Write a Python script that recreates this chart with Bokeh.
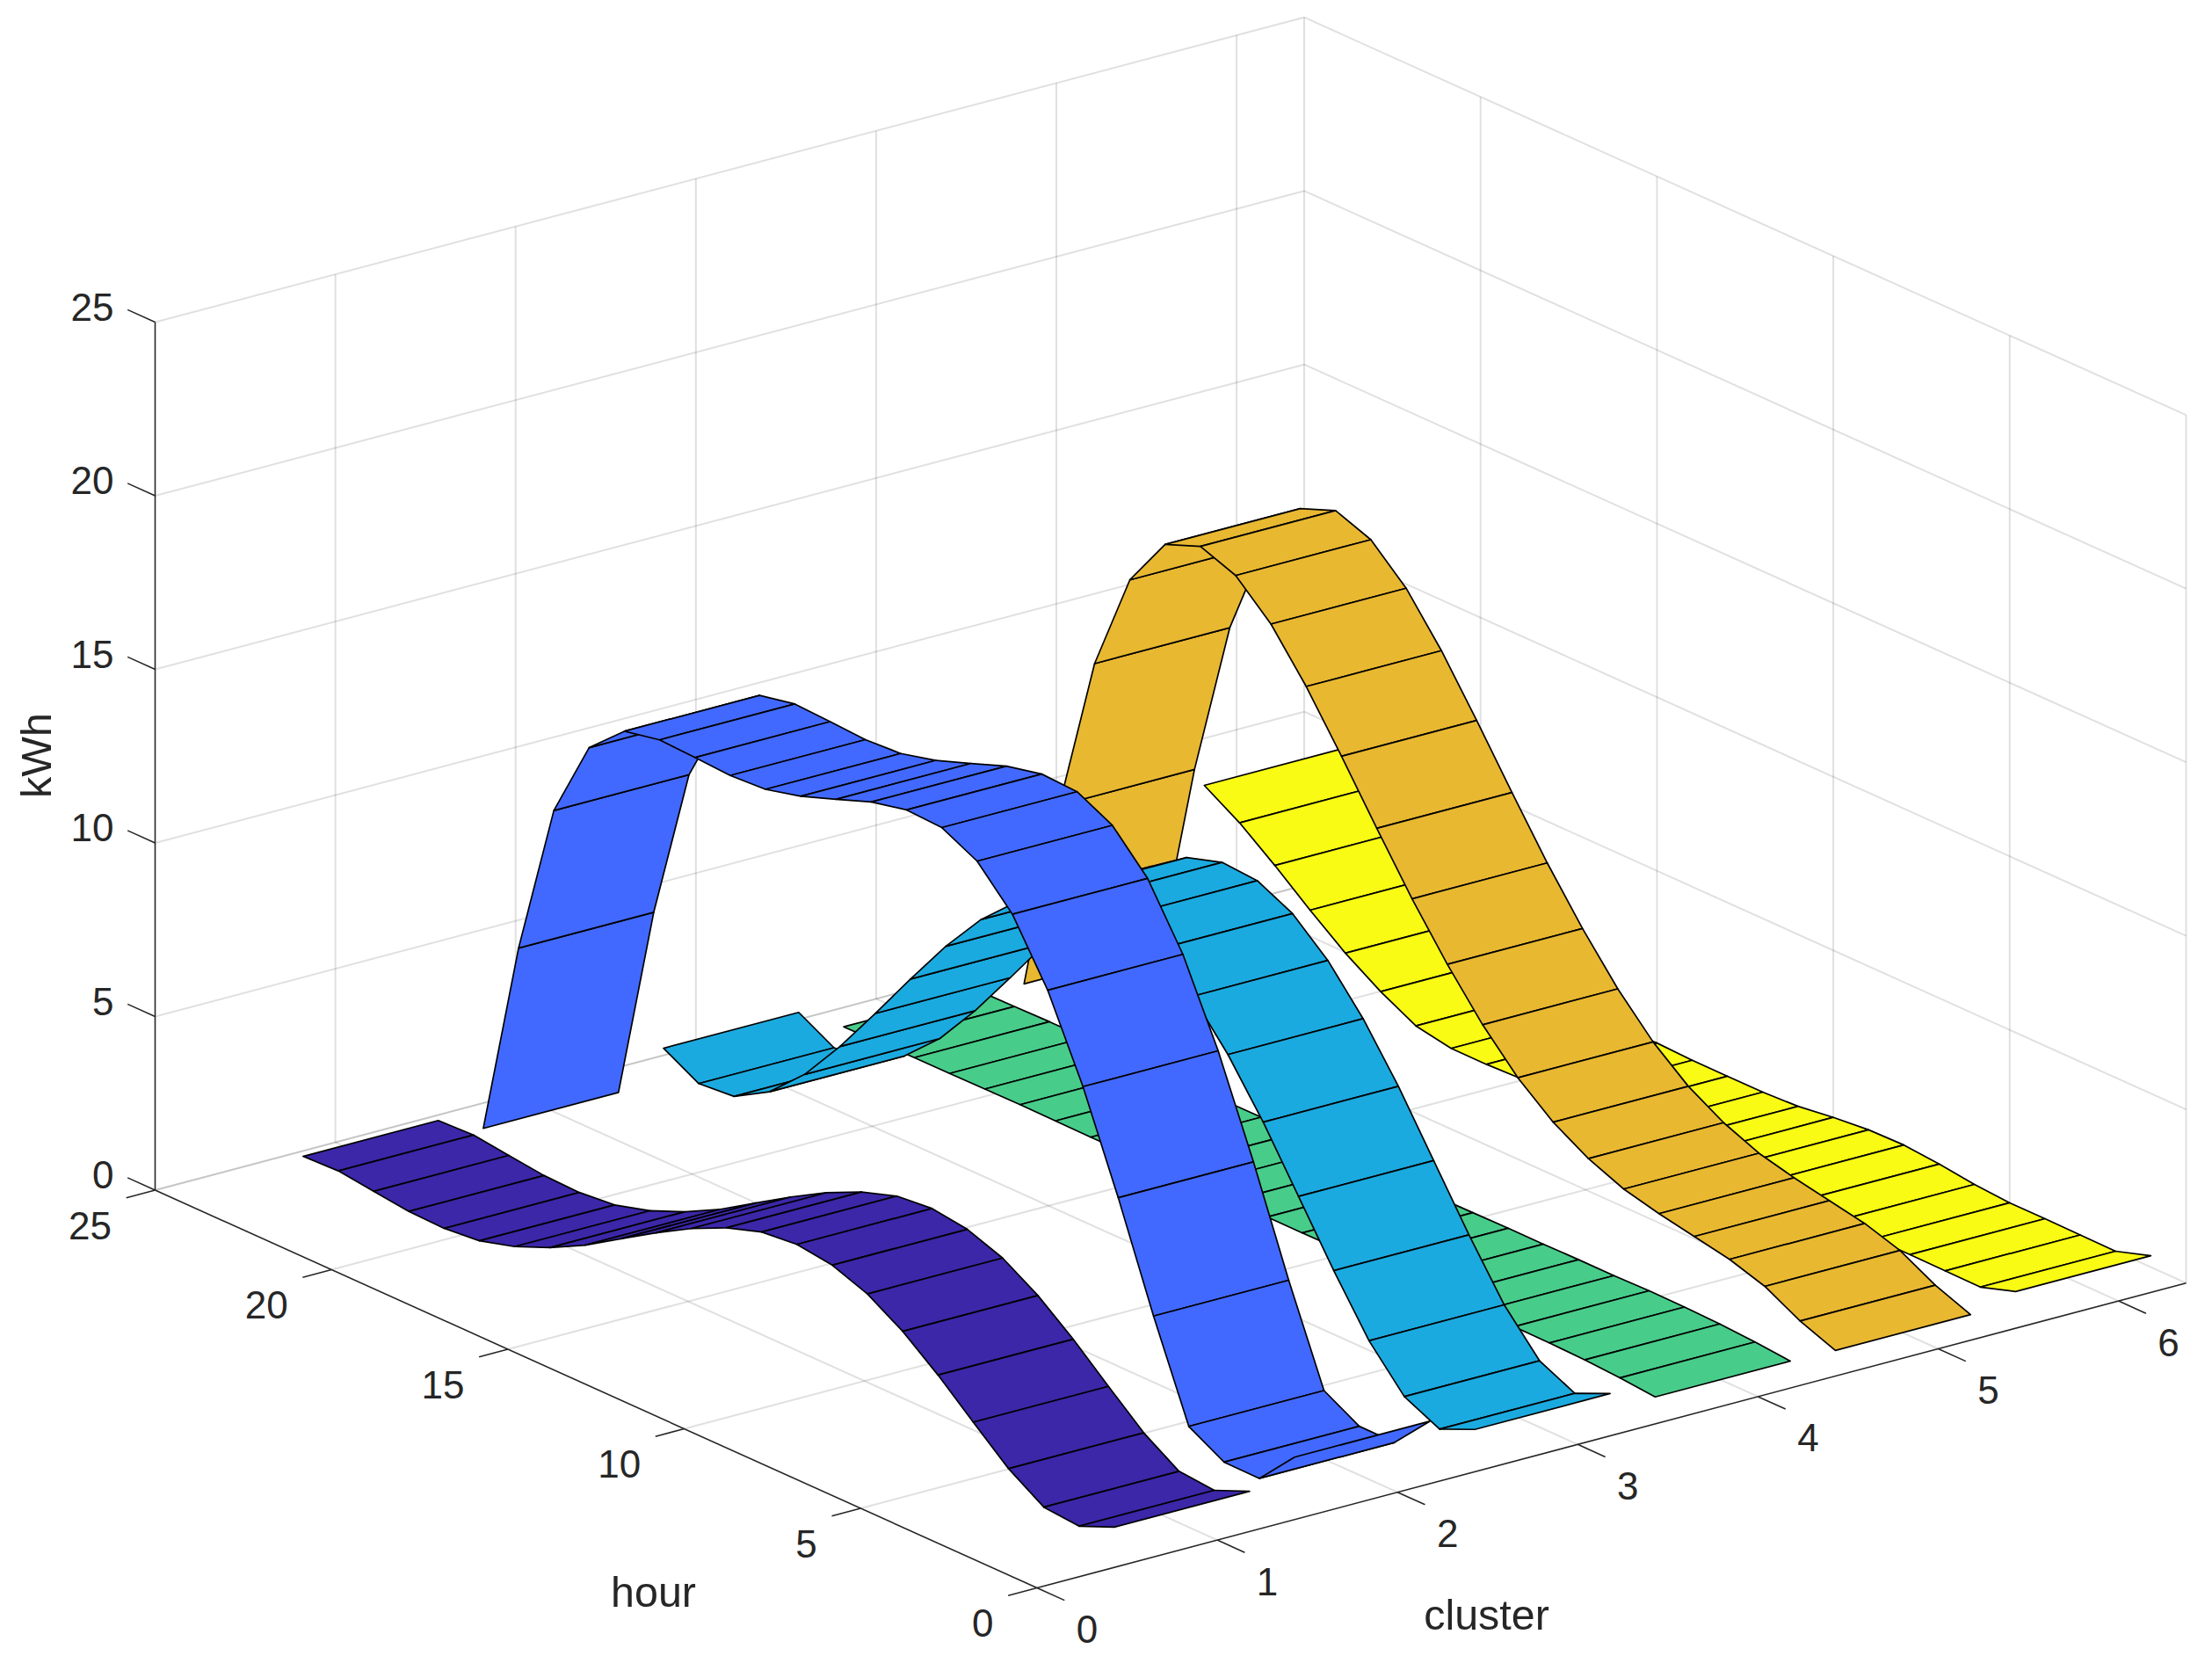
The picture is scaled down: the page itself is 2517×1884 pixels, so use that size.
from bokeh.plotting import figure
from bokeh.models import ColumnDataSource, Range1d
from bokeh.core.properties import value
from bokeh.embed import file_html
from bokeh.resources import INLINE
import math

hours = list(range(1, 25))
cluster1 = [0.43, 0.00, 0.09, 0.74, 1.62, 2.52, 3.32, 3.94, 4.31, 4.45, 4.35, 4.01,
            3.53, 2.95, 2.32, 1.68, 1.15, 0.72, 0.43, 0.33, 0.36, 0.48, 0.61, 0.57]
cluster2 = [1.07, 0.00, 0.01, 0.58, 3.30, 6.25, 8.99, 11.31, 13.04, 14.11, 14.62, 14.67,
            14.44, 14.06, 13.69, 13.43, 13.37, 13.43, 13.48, 13.27, 12.34, 10.07, 5.65, 0.00]
cluster3 = [0.49, 0.04, 0.52, 1.67, 3.23, 4.91, 6.59, 8.08, 9.30, 10.19, 10.68, 10.75,
            10.43, 9.72, 8.76, 7.53, 6.13, 4.68, 3.27, 2.01, 1.05, 0.46, 0.37, 0.93]
cluster4 = [0.05, 0.14, 0.20, 0.23, 0.24, 0.22, 0.22, 0.21, 0.21, 0.20, 0.19, 0.19,
            0.20, 0.20, 0.20, 0.20, 0.20, 0.21, 0.22, 0.21, 0.20, 0.20, 0.18, 0.17]
cluster5 = [0.01, 0.40, 0.94, 1.26, 1.46, 1.66, 1.91, 2.33, 2.92, 3.74, 4.81, 6.09,
            7.52, 9.09, 10.71, 12.26, 13.60, 14.54, 14.92, 14.52, 13.04, 10.17, 5.63, 0.03]
cluster6 = [0.33, 0.00, 0.01, 0.02, 0.02, 0.09, 0.22, 0.31, 0.29, 0.19, 0.05, 0.00,
            0.00, 0.00, 0.04, 0.00, 0.00, 0.19, 0.72, 1.37, 2.15, 2.98, 3.75, 4.37]
series = [cluster1, cluster2, cluster3, cluster4, cluster5, cluster6]
colors = ["#3B27A8", "#4269FF", "#1BAADF", "#48CC8A", "#E9B831", "#F9FB15"]

cluster_ticks = [0, 1, 2, 3, 4, 5, 6]
hour_ticks = [0, 5, 10, 15, 20, 25]
kwh_ticks = [0, 5, 10, 15, 20, 25]
C_MAX, H_MAX, Z_MAX = 6.375, 25, 25
HALF_WIDTH = 0.375


def proj(c, h, z):
    """Orthographic view of the 3-D axes box, in page pixels."""
    return (1179.5 + 205.1 * c - 40.14 * h, 1806 - 54.4 * c - 18.1 * h - 39.5 * z)


W, H = 2501, 1884
p = figure(width=W, height=H, x_range=Range1d(0, W), y_range=Range1d(H, 0),
           output_backend="svg", toolbar_location=None, min_border=0)
p.axis.visible = False
p.grid.visible = False
p.outline_line_color = None
p.background_fill_color = "white"
p.border_fill_color = "white"


def lines(segs):
    xs, ys = [], []
    for a, b in segs:
        pa, pb = proj(*a), proj(*b)
        xs.append([pa[0], pb[0]])
        ys.append([pa[1], pb[1]])
    return xs, ys


grid = []
for c in cluster_ticks[1:]:
    grid.append(((c, 0, 0), (c, H_MAX, 0)))
    grid.append(((c, H_MAX, 0), (c, H_MAX, Z_MAX)))
for h in hour_ticks:
    if h > 0:
        grid.append(((0, h, 0), (C_MAX, h, 0)))
    grid.append(((C_MAX, h, 0), (C_MAX, h, Z_MAX)))
for z in kwh_ticks:
    grid.append(((0, H_MAX, z), (C_MAX, H_MAX, z)))
    grid.append(((C_MAX, 0, z), (C_MAX, H_MAX, z)))
gx, gy = lines(grid)
p.multi_line(gx, gy, line_color="#262626", line_alpha=0.14, line_width=2)

axes = [((0, 0, 0), (C_MAX, 0, 0)), ((0, 0, 0), (0, H_MAX, 0)), ((0, H_MAX, 0), (0, H_MAX, Z_MAX))]
for c in cluster_ticks:
    axes.append(((c, 0, 0), (c, -0.78, 0)))
for h in hour_ticks:
    axes.append(((0, h, 0), (-0.16, h, 0)))
for z in kwh_ticks:
    axes.append(((0, H_MAX, z), (0, H_MAX + 0.78, z)))
ax, ay = lines(axes)
p.multi_line(ax, ay, line_color="#262626", line_width=1.6)

qx, qy, qc = [], [], []
for i in range(len(series) - 1, -1, -1):
    c = i + 1
    vals = series[i]
    for k in range(len(hours) - 2, -1, -1):
        h0, h1 = hours[k], hours[k + 1]
        corners = [proj(c - HALF_WIDTH, h0, vals[k]), proj(c + HALF_WIDTH, h0, vals[k]),
                   proj(c + HALF_WIDTH, h1, vals[k + 1]), proj(c - HALF_WIDTH, h1, vals[k + 1])]
        qx.append([q[0] for q in corners])
        qy.append([q[1] for q in corners])
        qc.append(colors[i])
p.patches("x", "y", source=ColumnDataSource(dict(x=qx, y=qy, c=qc)), fill_color="c",
          line_color="black", line_width=1.7, line_join="round")

FONT = value("Liberation Sans")
INK = "#262626"


def label_set(xs, ys, texts, align, size="44px", angle=0.0):
    p.text(xs, ys, text=texts, text_font=FONT, text_font_size=value(size), text_color=INK,
           text_align=align, text_baseline="middle", angle=angle)


tx = [proj(c, 0, 0)[0] + 57 for c in cluster_ticks]
ty = [proj(c, 0, 0)[1] + 47 for c in cluster_ticks]
label_set(tx, ty, [str(c) for c in cluster_ticks], "center")
tx = [proj(0, h, 0)[0] - 49.5 for h in hour_ticks]
ty = [proj(0, h, 0)[1] + 40 for h in hour_ticks]
label_set(tx, ty, [str(h) for h in hour_ticks], "right")
tx = [proj(0, H_MAX, z)[0] - 47 for z in kwh_ticks]
ty = [proj(0, H_MAX, z)[1] - 17.5 for z in kwh_ticks]
label_set(tx, ty, [str(z) for z in kwh_ticks], "right")

label_set([1691], [1836], ["cluster"], "center", "48.4px")
label_set([743], [1810], ["hour"], "center", "48.4px")
label_set([40], [859], ["kWh"], "center", "48.4px", math.pi / 2)

open("out.html", "w").write(file_html(p, INLINE))
